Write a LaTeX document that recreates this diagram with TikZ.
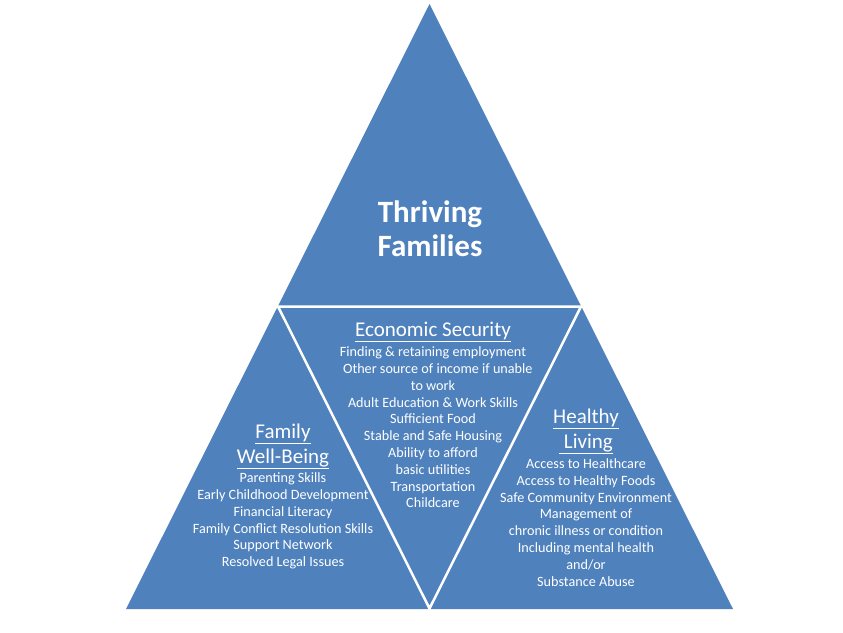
\documentclass[tikz,border=0pt]{standalone}
\usepackage{fontspec}
\setmainfont{Carlito}
\definecolor{pyrblue}{RGB}{79,129,189}

\tikzset{
	title/.style={text=white, align=center, inner sep=0pt, font=\fontsize{21}{25}\selectfont},
	body/.style={text=white, align=center, inner sep=0pt, font=\fontsize{14.2}{16.8}\selectfont},
}

\begin{document}
\begin{tikzpicture}[x=1pt,y=-1pt]
	\useasboundingbox (0,0) rectangle (843,632);

	% Pyramid %
	\fill [pyrblue] (429.5,4) -- (733,609) -- (126,609) -- cycle;
	% Inner Triangle %
	\draw [white, line width=2.5pt] (278,306.5) -- (581,306.5) -- (429.5,608.5) -- cycle;

	% Top %
	\node (thriving) [text=white, align=center, inner sep=0pt, font=\fontsize{31}{34}\selectfont\bfseries] at (430,229) {Thriving\\Families};
	% Middle %
	\node (econtitle) [title] at (433,332) {\underline{Economic Security}};
	\node (econ) [body] at (433,427.5) {Finding \& retaining employment\\ \ \ \ Other source of income if unable\\to work\\Adult Education \& Work Skills\\Sufficient Food\\Stable and Safe Housing\\Ability to afford\\basic utilities\\Transportation\\Childcare};
	% Left %
	\node (familytitle) [title] at (283,446.5) {\underline{Family}\\\underline{Well-Being}};
	\node (family) [body] at (283,521) {Parenting Skills\\Early Childhood Development\\Financial Literacy\\Family Conflict Resolution Skills\\Support Network\\Resolved Legal Issues};
	% Right %
	\node (healthtitle) [title] at (586,431.5) {\underline{Healthy}\\\underline{\ Living}};
	\node (health) [body] at (586,522.5) {Access to Healthcare\\Access to Healthy Foods\\Safe Community Environment\\Management of\\chronic illness or condition\\Including mental health\\and/or\\Substance Abuse};
\end{tikzpicture}
\end{document}
